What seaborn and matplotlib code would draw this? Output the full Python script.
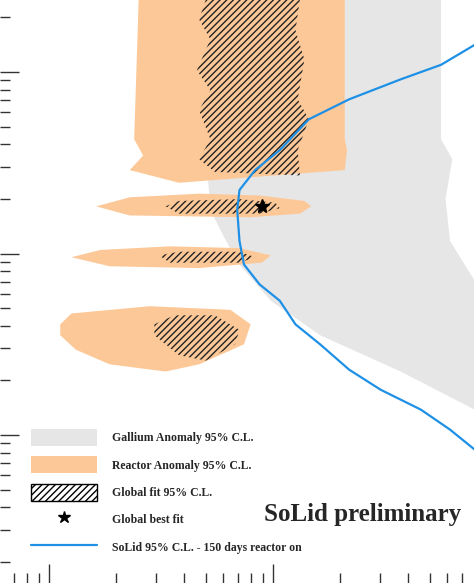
import matplotlib
matplotlib.use("Agg")
import matplotlib.pyplot as plt
import seaborn as sns
import numpy as np
from matplotlib.patches import Patch
from matplotlib.lines import Line2D
from matplotlib.ticker import LogLocator, NullFormatter

sns.set_style("white")
plt.rcParams['font.family'] = ['Liberation Serif', 'DejaVu Serif']
plt.rcParams['hatch.linewidth'] = 1.0

# contours, as log10(sin^2 2theta) / log10(dm^2)
gallium_lx = [-1.33, -0.25, -0.25, -0.20, -0.23, -0.21, -0.10, -0.10, -0.43, -0.79, -1.01, -1.15, -1.21, -1.28, -1.30, -1.30]
gallium_ly = [2.40, 2.40, 1.63, 1.52, 1.30, 1.07, 0.85, 0.14, 0.35, 0.55, 0.74, 0.94, 1.07, 1.24, 1.57, 2.40]

reactor_top_lx = [-1.60, -0.68, -0.68, -0.67, -0.68, -1.42, -1.64, -1.58, -1.62, -1.60]
reactor_top_ly = [2.40, 2.40, 1.63, 1.57, 1.46, 1.39, 1.46, 1.54, 1.63, 2.40]
reactor_b2_lx = [-1.79, -1.64, -1.33, -1.06, -0.86, -0.83, -0.88, -1.10, -1.64]
reactor_b2_ly = [1.26, 1.31, 1.33, 1.32, 1.29, 1.26, 1.22, 1.20, 1.21]
reactor_b3_lx = [-1.90, -1.77, -1.46, -1.15, -1.01, -1.05, -1.33, -1.73]
reactor_b3_ly = [0.98, 1.02, 1.04, 1.03, 0.99, 0.95, 0.92, 0.93]
reactor_b4_lx = [-1.95, -1.90, -1.55, -1.19, -1.10, -1.13, -1.33, -1.48, -1.73, -1.88, -1.95]
reactor_b4_ly = [0.61, 0.67, 0.71, 0.69, 0.61, 0.50, 0.39, 0.35, 0.39, 0.47, 0.55]

glob_top_lx = [-1.30, -1.33, -1.28, -1.34, -1.28, -1.33, -1.28, -1.33, -1.26, -0.88, -0.89, -0.84, -0.89, -0.86, -0.90, -0.88]
glob_top_ly = [2.40, 2.29, 2.18, 2.01, 1.90, 1.79, 1.63, 1.52, 1.45, 1.43, 1.57, 1.74, 1.85, 2.07, 2.23, 2.40]
glob_b2_lx = [-1.48, -1.42, -1.15, -0.99, -0.97, -1.06, -1.42]
glob_b2_ly = [1.26, 1.29, 1.30, 1.28, 1.25, 1.22, 1.22]
glob_b3_lx = [-1.51, -1.42, -1.15, -1.08, -1.15, -1.46]
glob_b3_ly = [0.99, 1.01, 1.01, 0.98, 0.95, 0.95]
glob_b4_lx = [-1.53, -1.44, -1.26, -1.15, -1.17, -1.30, -1.42, -1.53]
glob_b4_ly = [0.61, 0.66, 0.66, 0.58, 0.50, 0.41, 0.44, 0.55]

best_fit_lx = [-1.05]
best_fit_ly = [1.26]

solid_lx = [-0.10, -0.25, -0.43, -0.66, -0.84, -0.97, -1.08, -1.15, -1.16, -1.15, -1.13, -1.06, -0.97, -0.90, -0.79, -0.66, -0.52, -0.34, -0.21, -0.10]
solid_ly = [2.15, 2.04, 1.96, 1.85, 1.74, 1.57, 1.46, 1.35, 1.24, 1.07, 0.94, 0.83, 0.74, 0.61, 0.50, 0.36, 0.25, 0.14, 0.03, -0.08]

fig = plt.figure(figsize=(4.74, 5.83), dpi=100)
ax = fig.add_axes([0, 0, 1, 1])
ax.set_xscale("log")
ax.set_yscale("log")

def p(lx):
    return 10 ** np.array(lx)

grey = "#e6e6e6"
orange = "#fdc897"
ax.fill(p(gallium_lx), p(gallium_ly), color=grey, lw=0)
for lx, ly in [(reactor_top_lx, reactor_top_ly), (reactor_b2_lx, reactor_b2_ly),
               (reactor_b3_lx, reactor_b3_ly), (reactor_b4_lx, reactor_b4_ly)]:
    ax.fill(p(lx), p(ly), color=orange, lw=0)
for lx, ly in [(glob_top_lx, glob_top_ly), (glob_b2_lx, glob_b2_ly),
               (glob_b3_lx, glob_b3_ly), (glob_b4_lx, glob_b4_ly)]:
    ax.fill(p(lx), p(ly), facecolor="none", edgecolor="#222222", hatch="/////", lw=0)
ax.plot(p(solid_lx), p(solid_ly), color="#1e90e6", lw=1.6)
ax.plot(p(best_fit_lx), p(best_fit_ly), marker="*", color="black", ms=10, ls="none")

ax.set_xlim(10 ** -2.219, 10 ** -0.103)
ax.set_ylim(10 ** -0.815, 10 ** 2.397)
for axis in (ax.xaxis, ax.yaxis):
    axis.set_major_locator(LogLocator(base=10))
    axis.set_minor_locator(LogLocator(base=10, subs=np.arange(2, 10), numticks=20))
    axis.set_minor_formatter(NullFormatter())
ax.tick_params(which="major", direction="in", length=14, width=1, colors="#333333")
ax.tick_params(which="minor", direction="in", length=7, width=1, colors="#333333")
ax.tick_params(which="both", labelbottom=False, labelleft=False, left=True, bottom=True)
for s in ax.spines.values():
    s.set_visible(False)

handles = [Patch(facecolor=grey, edgecolor="none"),
           Patch(facecolor=orange, edgecolor="none"),
           Patch(facecolor="white", edgecolor="black", hatch="/////"),
           Line2D([], [], marker="*", color="black", ls="none", ms=9),
           Line2D([], [], color="#1e90e6", lw=1.6)]
labels = ["Gallium Anomaly 95% C.L.", "Reactor Anomaly 95% C.L.", "Global fit 95% C.L.",
          "Global best fit", "SoLid 95% C.L. - 150 days reactor on"]
ax.legend(handles, labels, loc="upper left", bbox_to_anchor=(0.055, 0.272), frameon=False,
          prop={"weight": "bold", "size": 8.5}, handlelength=5.6, handleheight=1.8,
          labelspacing=0.9, handletextpad=1.3, borderaxespad=0)

ax.text(0.558, 0.117, "SoLid preliminary", transform=ax.transAxes, fontsize=18,
        fontweight="bold", ha="left", va="center")

fig.savefig("out.png", dpi=100)
